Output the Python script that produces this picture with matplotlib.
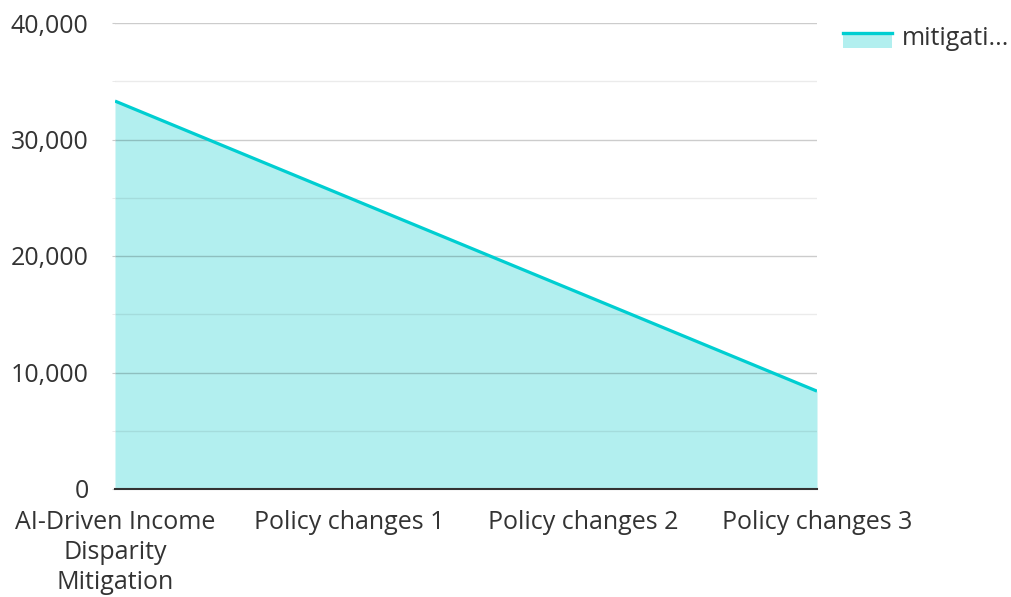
import matplotlib
matplotlib.use('Agg')
import matplotlib.pyplot as plt
from matplotlib.legend_handler import HandlerBase
from matplotlib.patches import Rectangle
from matplotlib.lines import Line2D
from matplotlib.ticker import FuncFormatter, MultipleLocator

# data
categories = ["AI-Driven Income\nDisparity\nMitigation", "Policy changes 1",
              "Policy changes 2", "Policy changes 3"]
values = [33300, 25000, 16700, 8400]
series_name = "mitigati..."

line_color = "#00CED1"
fill_color = "#B2EFEF"
text_color = "#333333"

plt.rcParams['font.family'] = ['Open Sans', 'DejaVu Sans']


class FillLineHandler(HandlerBase):
    """legend key: filled box with the line along its top edge"""
    def create_artists(self, legend, orig_handle, xdescent, ydescent,
                       width, height, fontsize, trans):
        x0, y0 = -xdescent, -ydescent
        rect = Rectangle((x0, y0 - height * 0.35), width, height * 1.05,
                         facecolor=fill_color, edgecolor='none', transform=trans)
        top = y0 + height * 0.7
        ln = Line2D([x0, x0 + width], [top, top], color=line_color,
                    linewidth=2.4, transform=trans)
        return [rect, ln]


fig = plt.figure(figsize=(10.12, 5.97), dpi=100)
ax = fig.add_axes([115 / 1012, 108 / 597, (817 - 115) / 1012, (489 - 23) / 597])

x = list(range(len(categories)))
ax.fill_between(x, values, 0, color=fill_color, linewidth=0, zorder=1)
ax.plot(x, values, color=line_color, linewidth=2.3, zorder=4, solid_capstyle='butt')

ax.set_xlim(0, len(categories) - 1)
ax.set_ylim(0, 40000)
ax.yaxis.set_major_locator(MultipleLocator(10000))
ax.yaxis.set_minor_locator(MultipleLocator(5000))
ax.yaxis.set_major_formatter(FuncFormatter(lambda v, p: f"{int(v):,}"))

ax.grid(axis='y', which='major', color='black', alpha=0.2, linewidth=1, zorder=2)
ax.grid(axis='y', which='minor', color='black', alpha=0.08, linewidth=1, zorder=2)
ax.grid(axis='x', visible=False)
ax.set_axisbelow(False)

for s in ['top', 'right', 'left']:
    ax.spines[s].set_visible(False)
ax.spines['bottom'].set_color('#333333')
ax.spines['bottom'].set_linewidth(1.5)
ax.spines['bottom'].set_zorder(5)

ax.set_xticks(x)
ax.set_xticklabels(categories, linespacing=1.28)
ax.tick_params(axis='x', length=0, pad=15, labelsize=18, labelcolor=text_color)
ax.tick_params(axis='y', which='major', length=2, color='#cccccc', pad=17,
               labelsize=18, labelcolor=text_color)
ax.tick_params(axis='y', which='minor', length=2, color='#e6e6e6')

handle = Line2D([], [], color=line_color)
fig.legend([handle], [series_name], handler_map={Line2D: FillLineHandler()},
           loc='upper left', bbox_to_anchor=(843 / 1012, 1 - 26 / 597),
           frameon=False, fontsize=18, handlelength=1.96, handleheight=0.45,
           handletextpad=0.4, labelcolor=text_color, borderaxespad=0, borderpad=0)

fig.savefig("out.png", dpi=100)
